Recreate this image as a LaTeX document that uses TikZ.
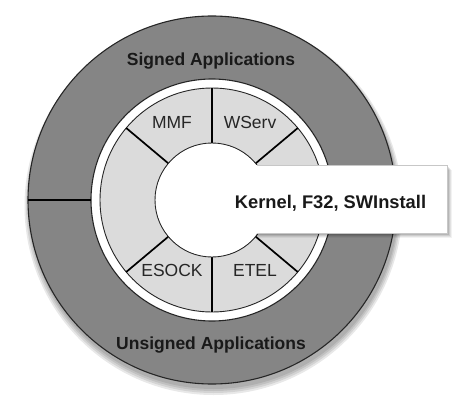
\documentclass[tikz,border=0pt]{standalone}
\usepackage{fontspec}
\setmainfont{Liberation Sans}
\usetikzlibrary{calc}
\definecolor{ringgrey}{gray}{0.52}
\definecolor{lightring}{gray}{0.86}
\definecolor{edgecol}{gray}{0.15}
\definecolor{boxedge}{gray}{0.78}
\tikzset{
  ringline/.style={draw=edgecol, line width=1.1pt},
  divider/.style={draw=black, line width=1.7pt},
  biglabel/.style={anchor=base, font=\fontsize{17.5}{20}\selectfont\bfseries, text=black!90},
  seglabel/.style={anchor=base, font=\fontsize{17.5}{20}\selectfont, text=black!85},
  softshadow/.style={fill=black, opacity=0.09}
}
\begin{document}
\begin{tikzpicture}[x=1pt,y=-1pt]
\useasboundingbox (0,0) rectangle (474,412);
\coordinate (C) at (212,200);
% soft shadow of the outer disc
\foreach \r/\d in {189/6,187.5/5.5,186/5,185/4}{
  \fill[softshadow] ($(C)+(1.5pt,-\d pt)$) circle[radius=\r pt];
}
% outer grey ring
\path[fill=ringgrey, ringline] (C) circle[radius=184pt];
\path[fill=white, ringline] (C) circle[radius=121pt];
\draw[divider] ($(C)+(-184pt,0)$) -- ($(C)+(-121pt,0)$);
% inner light ring
\path[fill=lightring, ringline, line width=0.9pt] (C) circle[radius=112pt];
\foreach \a in {90,140,220,270,320,40}{
  \draw[divider] ($(C)+(\a:57pt)$) -- ($(C)+(\a:112pt)$);
}
\path[fill=white, ringline, line width=0.9pt] (C) circle[radius=57pt];
% label box with shadow
\foreach \s/\o in {5/0.05,4/0.07,3/0.09,2/0.11,1/0.12}{
  \fill[black, opacity=\o] ($(212,165)+(\s pt,-\s pt)$) rectangle ($(447,233)+(\s pt,-\s pt)$);
}
\fill[white] (C) circle[radius=56pt];
\fill[white] (212,165) rectangle (447,233);
\draw[boxedge, line width=0.8pt] (257,165) -- (447,165) -- (447,233) -- (257,233);
% texts
\node[biglabel] (signed) at (211,65.5) {Signed Applications};
\node[biglabel] (unsigned) at (211,349) {Unsigned Applications};
\node[seglabel] (mmf) at (172,128.3) {MMF};
\node[seglabel] (wserv) at (250,128.3) {WServ};
\node[seglabel] (esock) at (172,276.7) {ESOCK};
\node[seglabel] (etel) at (255,276.7) {ETEL};
\node[biglabel, font=\fontsize{18.3}{21}\selectfont\bfseries] (kernel) at (330.5,208.3) {Kernel, F32, SWInstall};
\end{tikzpicture}
\end{document}
